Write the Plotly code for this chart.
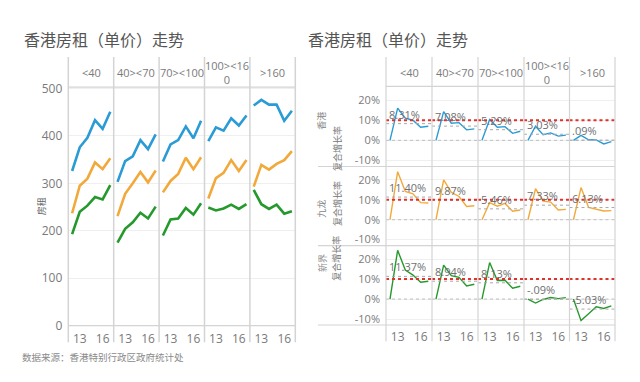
import plotly.graph_objects as go

# ---------------- data ----------------
years = [2012, 2013, 2014, 2015, 2016, 2017]
tick_years = [2013, 2016]
tick_labels = ["13", "16"]
band_headers = ["<40", "40><70", "70><100", "100><16<br>0", ">160"]
regions = ["香港", "九龙", "新界"]

# rent (unit price) per size band, 2012-2017
rent_hk = [
    [326, 376, 396, 433, 415, 451],
    [303, 347, 357, 391, 372, 403],
    [346, 382, 391, 420, 395, 432],
    [389, 418, 411, 437, 422, 443],
    [464, 476, 466, 466, 432, 453],
]
rent_kln = [
    [237, 295, 310, 344, 330, 353],
    [231, 278, 300, 324, 302, 327],
    [281, 305, 320, 354, 330, 355],
    [268, 311, 322, 349, 326, 349],
    [293, 339, 329, 341, 349, 368],
]
rent_nt = [
    [193, 240, 253, 271, 266, 296],
    [175, 204, 218, 238, 226, 251],
    [190, 224, 226, 248, 234, 258],
    [249, 243, 247, 255, 246, 256],
    [286, 256, 246, 255, 236, 241],
]

# compound growth rate (%) per size band
growth_hk = [
    [0, 16.0, 11.0, 10.0, 6.5, 7.0],
    [0, 14.3, 8.5, 8.8, 5.2, 5.7],
    [0, 10.4, 6.5, 6.8, 3.5, 4.5],
    [0, 7.0, 2.8, 3.7, 2.1, 2.6],
    [0, 2.5, 0.3, 0.2, -1.8, -0.6],
]
growth_kln = [
    [0, 24.2, 14.2, 13.0, 8.6, 8.4],
    [0, 20.0, 13.8, 11.7, 6.7, 7.0],
    [0, 8.6, 6.8, 8.2, 4.3, 4.9],
    [0, 15.6, 9.4, 8.9, 4.9, 5.2],
    [0, 16.2, 6.2, 5.4, 4.4, 4.6],
]
growth_nt = [
    [0, 24.4, 14.5, 12.0, 8.4, 8.9],
    [0, 17.0, 11.7, 10.9, 6.6, 7.4],
    [0, 18.3, 9.3, 9.4, 5.4, 6.4],
    [0, -2.0, -0.2, 0.8, 0.2, 0.7],
    [0, -10.8, -7.4, -3.9, -4.7, -3.4],
]
avg_hk = [8.31, 7.08, 5.29, 3.03, 0.09]
avg_kln = [11.40, 9.87, 5.46, 7.33, 6.13]
avg_nt = [11.37, 8.94, 8.13, -0.09, -5.03]
avg_text_hk = ["8.31%", "7.08%", "5.29%", "3.03%", ".09%"]
avg_text_kln = ["11.40%", "9.87%", "5.46%", "7.33%", "6.13%"]
avg_text_nt = ["11.37%", "8.94%", "8.13%", "-.09%", "-5.03%"]
target_rate = 10

left_yticks = [0, 100, 200, 300, 400, 500]
right_yticks = [-10, 0, 10, 20]
right_yticktext = ["-10%", "0%", "10%", "20%"]

# ---------------- style ----------------
W, H = 640, 382
C_BLUE = "#2a9bd5"
C_ORANGE = "#f2a93b"
C_GREEN = "#25992c"
colors = [C_BLUE, C_ORANGE, C_GREEN]
GRID = "#efefef"
DIV = "#d4d4d4"
TXT = "#7a7a7a"
CJK = "Noto Sans CJK SC"
NUM = "Open Sans, Noto Sans CJK SC"


def px(x):
    return x / W


def py(y):
    return 1 - y / H


fig = go.Figure()
layout = {}
shapes = []
annotations = []

# ---------------- left chart ----------------
L_cols = [68.3, 113.7, 159.1, 204.5, 249.9, 295.3]
L_top, L_bot = 83.3, 331.7
rent_sets = [rent_hk, rent_kln, rent_nt]

for c in range(5):
    idx = c + 1
    xa = "x" if idx == 1 else f"x{idx}"
    ya = "y" if idx == 1 else f"y{idx}"
    for r in range(3):
        fig.add_trace(go.Scatter(
            x=years, y=rent_sets[r][c], mode="lines",
            line=dict(color=colors[r], width=2.6),
            xaxis=xa, yaxis=ya, showlegend=False, hoverinfo="skip"))
    layout[f"xaxis{idx}"] = dict(
        domain=[px(L_cols[c]), px(L_cols[c + 1])], anchor=ya,
        range=[2011.5, 2017.45], tickvals=tick_years, ticktext=tick_labels,
        showgrid=False, zeroline=False, showline=False, ticks="",
        tickfont=dict(family=NUM, size=12, color=TXT), ticklabelstandoff=4,
        fixedrange=True)
    layout[f"yaxis{idx}"] = dict(
        domain=[py(L_bot), py(L_top)], anchor=xa,
        range=[0, 503], tickvals=left_yticks,
        showticklabels=(c == 0), showgrid=True, gridcolor=GRID, gridwidth=1,
        zeroline=False, showline=False, ticks="",
        tickfont=dict(family=NUM, size=12, color=TXT), ticklabelstandoff=5,
        fixedrange=True)
    annotations.append(dict(
        x=px((L_cols[c] + L_cols[c + 1]) / 2), y=py(68), xref="paper", yref="paper",
        text=band_headers[c], showarrow=False, xanchor="center", yanchor="middle",
        font=dict(family=NUM, size=11, color=TXT)))

for x in L_cols:
    shapes.append(dict(type="line", xref="paper", yref="paper",
                       x0=px(x), x1=px(x), y0=py(52), y1=py(349),
                       line=dict(color=DIV, width=1.5)))
for y in [L_top, L_bot]:
    shapes.append(dict(type="line", xref="paper", yref="paper",
                       x0=px(L_cols[0]), x1=px(L_cols[-1]), y0=py(y), y1=py(y),
                       line=dict(color=DIV, width=1.2)))

annotations.append(dict(x=px(33), y=py(208), xref="paper", yref="paper",
                        text="房租", textangle=-90, showarrow=False,
                        font=dict(family=CJK, size=9, color="#666")))
annotations.append(dict(x=px(22), y=py(33), xref="paper", yref="paper",
                        text="香港房租（单价）走势", showarrow=False,
                        xanchor="left", yanchor="middle",
                        font=dict(family=CJK, size=16, color="#555")))

# ---------------- right chart ----------------
R_cols = [386, 432, 478, 524, 569.5, 615]
R_rows = [82.7, 166, 248.3, 331]
growth_sets = [growth_hk, growth_kln, growth_nt]
avg_sets = [avg_hk, avg_kln, avg_nt]
avg_text_sets = [avg_text_hk, avg_text_kln, avg_text_nt]

idx = 5
for r in range(3):
    for c in range(5):
        idx += 1
        xa, ya = f"x{idx}", f"y{idx}"
        fig.add_trace(go.Scatter(
            x=years, y=growth_sets[r][c], mode="lines",
            line=dict(color=colors[r], width=1.4),
            xaxis=xa, yaxis=ya, showlegend=False, hoverinfo="skip"))
        layout[f"xaxis{idx}"] = dict(
            domain=[px(R_cols[c]), px(R_cols[c + 1])], anchor=ya,
            range=[2011.48, 2017.48], tickvals=tick_years, ticktext=tick_labels,
            showticklabels=(r == 2),
            showgrid=False, zeroline=False, showline=False, ticks="",
            tickfont=dict(family=NUM, size=12, color=TXT), ticklabelstandoff=3,
            fixedrange=True)
        layout[f"yaxis{idx}"] = dict(
            domain=[py(R_rows[r + 1]), py(R_rows[r])], anchor=xa,
            range=[-13, 26.8], tickvals=right_yticks, ticktext=right_yticktext,
            showticklabels=(c == 0), showgrid=True, gridcolor=GRID, gridwidth=1,
            zeroline=False, showline=False, ticks="",
            tickfont=dict(family=NUM, size=11, color=TXT), ticklabelstandoff=5,
            fixedrange=True)
        # zero line (dotted)
        shapes.append(dict(type="line", xref=f"{xa} domain", yref=ya,
                           x0=0, x1=1, y0=0, y1=0,
                           line=dict(color="#bdbdbd", width=1, dash="dot")))
        # average line
        shapes.append(dict(type="line", xref=f"{xa} domain", yref=ya,
                           x0=0, x1=1, y0=avg_sets[r][c], y1=avg_sets[r][c],
                           line=dict(color="#a8a8a8", width=1, dash="dot")))
        # 10% target line
        shapes.append(dict(type="line", xref=f"{xa} domain", yref=ya,
                           x0=0, x1=1, y0=target_rate, y1=target_rate,
                           line=dict(color="#e0312b", width=2, dash="dot")))
        annotations.append(dict(
            x=years[0], y=avg_sets[r][c], xref=xa, yref=ya,
            text=avg_text_sets[r][c], showarrow=False,
            xanchor="left", yanchor="bottom", xshift=-3, yshift=0,
            font=dict(family=NUM, size=11, color="#707070")))
        if r == 0:
            annotations.append(dict(
                x=px((R_cols[c] + R_cols[c + 1]) / 2), y=py(68),
                xref="paper", yref="paper",
                text=band_headers[c], showarrow=False,
                xanchor="center", yanchor="middle",
                font=dict(family=NUM, size=11, color=TXT)))

for x in R_cols:
    shapes.append(dict(type="line", xref="paper", yref="paper",
                       x0=px(x), x1=px(x), y0=py(52), y1=py(348),
                       line=dict(color=DIV, width=1.2)))
shapes.append(dict(type="line", xref="paper", yref="paper",
                   x0=px(R_cols[0]), x1=px(R_cols[-1]), y0=py(R_rows[0]), y1=py(R_rows[0]),
                   line=dict(color=DIV, width=1.2)))
for y in R_rows[1:]:
    shapes.append(dict(type="line", xref="paper", yref="paper",
                       x0=px(318), x1=px(R_cols[-1]), y0=py(y), y1=py(y),
                       line=dict(color=DIV, width=1.2)))

region_label_y = [107, 210, 278]
for r in range(3):
    annotations.append(dict(x=px(322), y=py(region_label_y[r]), xref="paper", yref="paper",
                            text=regions[r], textangle=-90, showarrow=False,
                            font=dict(family=CJK, size=9, color="#888")))
    annotations.append(dict(x=px(337), y=py((R_rows[r] + R_rows[r + 1]) / 2 - 2),
                            xref="paper", yref="paper",
                            text="复合增长率", textangle=-90, showarrow=False,
                            font=dict(family=CJK, size=9, color="#777")))

annotations.append(dict(x=px(306), y=py(33), xref="paper", yref="paper",
                        text="香港房租（单价）走势", showarrow=False,
                        xanchor="left", yanchor="middle",
                        font=dict(family=CJK, size=16, color="#555")))
annotations.append(dict(x=px(20), y=py(364), xref="paper", yref="paper",
                        text="数据来源：香港特别行政区政府统计处", showarrow=False,
                        xanchor="left", yanchor="middle",
                        font=dict(family=CJK, size=9.5, color="#8a8a8a")))

fig.update_layout(
    width=W, height=H, margin=dict(l=0, r=0, t=0, b=0),
    paper_bgcolor="white", plot_bgcolor="white",
    shapes=shapes, annotations=annotations, showlegend=False,
    **layout)

fig.write_html("out.html", config={"displayModeBar": False},
               post_script="document.body.style.margin='0';document.body.style.overflow='hidden';")
